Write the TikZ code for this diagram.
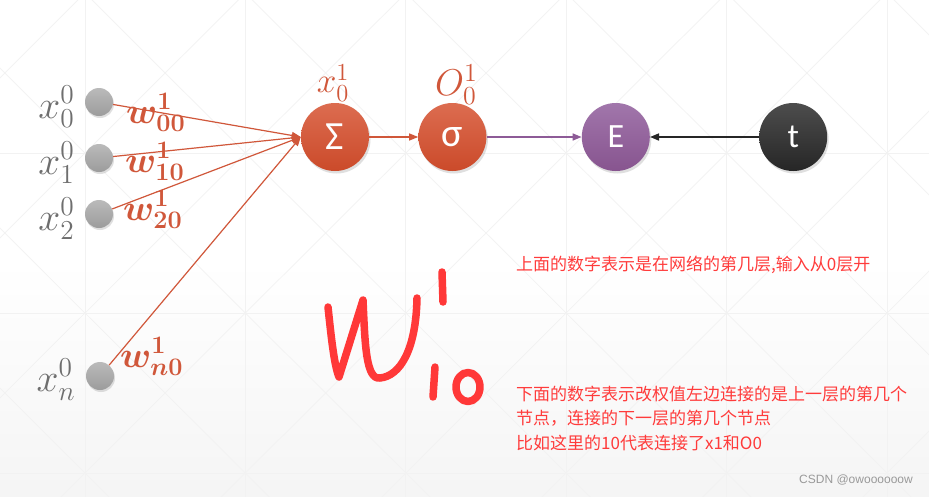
\documentclass[tikz,border=0pt]{standalone}
\usepackage{amsmath, bm}
\usepackage{graphicx}
\usepackage{fontspec}
\newfontfamily\cjk{Noto Sans CJK SC}
\newfontfamily\nodefont{Carlito}
\newfontfamily\markfont{Liberation Sans}
\usetikzlibrary{arrows.meta, positioning, shadows}

\definecolor{NetRed}{HTML}{D0573A}
\definecolor{NetRedTop}{HTML}{DC6C50}
\definecolor{NetRedBot}{HTML}{CB4A2A}
\definecolor{LabGray}{HTML}{6E6E6E}
\definecolor{ErrPurple}{HTML}{8D5B97}
\definecolor{ErrTop}{HTML}{A176AB}
\definecolor{ErrBot}{HTML}{87548F}
\definecolor{TgtTop}{HTML}{4D4D4D}
\definecolor{TgtBot}{HTML}{262626}
\definecolor{DotTop}{HTML}{BABABA}
\definecolor{DotBot}{HTML}{9C9C9C}
\definecolor{NoteRed}{HTML}{FF3B3B}
\definecolor{InkRed}{HTML}{FF3838}

% math labels at 20.74pt, blown up
\newcommand{\netlab}[2]{\scalebox{#1}{$#2$}}

\tikzset{
  inp/.style={circle, minimum size=28pt, inner sep=0pt, top color=DotTop, bottom color=DotBot,
    drop shadow={shadow xshift=1pt, shadow yshift=-2pt, opacity=0.25}},
  unit/.style={circle, minimum size=68pt, inner sep=0pt, text=white,
    drop shadow={shadow xshift=1.5pt, shadow yshift=-2.5pt, opacity=0.25}},
  sumunit/.style={unit, top color=NetRedTop, bottom color=NetRedBot},
  errunit/.style={unit, top color=ErrTop, bottom color=ErrBot},
  tgtunit/.style={unit, top color=TgtTop, bottom color=TgtBot},
  xlab/.style={text=LabGray, inner sep=0pt, font=\fontsize{20.74}{24}\selectfont},
  wlab/.style={text=NetRed, inner sep=0pt, font=\fontsize{20.74}{24}\selectfont},
  olab/.style={text=NetRed, inner sep=0pt, font=\fontsize{20.74}{24}\selectfont},
  wedge/.style={draw=NetRed, line width=1.2pt, -{Triangle[length=9pt, width=7pt]}},
  note/.style={text=NoteRed, inner sep=0pt, align=left, font=\cjk\fontsize{17}{24.5}\selectfont},
  ink/.style={draw=InkRed, line width=7.5pt, line cap=round, line join=round},
  grid/.style={draw=black!5, line width=0.7pt}
}

\begin{document}
\begin{tikzpicture}[x=1pt, y=-1pt]
  \useasboundingbox (0,0) rectangle (929,496);
  % slide background
  \fill[white] (0,0) rectangle (929,496);
  \shade[top color=white, bottom color=black!4] (0,260) rectangle (929,496);
  \begin{scope}
    \clip (0,0) rectangle (929,496);
    \foreach \i in {-1,...,6}
      \draw[grid] ({85+160.4*\i},-10) -- ({85+160.4*\i},510);
    \foreach \j in {-1,...,3}
      \draw[grid] (-10,{153+160*\j}) -- (940,{153+160*\j});
    \foreach \i in {-1,...,5}
      \foreach \j in {-1,...,2} {
        \draw[grid] ({85+160.4*\i},{153+160*\j}) -- ({85+160.4*(\i+1)},{153+160*(\j+1)});
        \draw[grid] ({85+160.4*(\i+1)},{153+160*\j}) -- ({85+160.4*\i},{153+160*(\j+1)});
      }
  \end{scope}

  % inputs
  \node[inp] (x0) at (99,102) {};
  \node[inp] (x1) at (99,158) {};
  \node[inp] (x2) at (99,214) {};
  \node[inp] (xn) at (100,376) {};
  \node[xlab, left=10pt of x0, yshift=-5pt] (lx0) {\netlab{1.9}{x^0_0}};
  \node[xlab, left=10pt of x1, yshift=-5pt] (lx1) {\netlab{1.9}{x^0_1}};
  \node[xlab, left=10pt of x2, yshift=-5pt] (lx2) {\netlab{1.9}{x^0_2}};
  \node[xlab, left=10pt of xn, yshift=-4pt] (lxn) {\netlab{1.9}{x^0_n}};

  % units
  \node[sumunit, font=\nodefont\fontsize{40}{40}\selectfont] (sum) at (335,137) {Σ};
  \node[sumunit, right=49pt of sum, font=\nodefont\fontsize{40}{40}\selectfont] (sig) {σ};
  \node[errunit, right=95pt of sig, font=\nodefont\fontsize{34}{34}\selectfont] (err) {E};
  \node[tgtunit, right=109pt of err, font=\nodefont\fontsize{34}{34}\selectfont] (tgt) {t};
  \node[olab, above=1pt of sum, xshift=-2pt] (lsum) {\netlab{1.7}{x^1_0}};
  \node[olab, above=-2pt of sig, xshift=4pt] (lsig) {\netlab{1.8}{O^1_0}};

  % weights
  \draw[wedge] (x0) -- (sum.west);
  \draw[wedge] (x1) -- (sum.west);
  \draw[wedge] (x2) -- (sum.west);
  \draw[wedge] (xn) -- (sum.west);
  \node[wlab, anchor=base west] (w00) at (126,123) {\netlab{1.75}{\bm{w^1_{00}}}};
  \node[wlab, anchor=base west] (w10) at (125,172) {\netlab{1.75}{\bm{w^1_{10}}}};
  \node[wlab, anchor=base west] (w20) at (123,220) {\netlab{1.75}{\bm{w^1_{20}}}};
  \node[wlab, anchor=base west] (wn0) at (120,367) {\netlab{1.75}{\bm{w^1_{n0}}}};

  \draw[wedge] (sum) -- (sig);
  \draw[draw=ErrPurple, line width=1.6pt, -{Triangle[length=9pt, width=7pt]}] (sig) -- (err);
  \draw[draw=TgtBot, line width=1.6pt, -{Triangle[length=9pt, width=7pt]}] (tgt) -- (err);

  % handwritten W^1_10
  \draw[ink] (328,307) .. controls (331,335) and (334,365) .. (339,377)
    -- (363,300) .. controls (365,345) and (366,380) .. (380,378)
    .. controls (400,376) and (416,350) .. (417,298);
  \draw[ink] (442,272) -- (443,302);
  \draw[ink] (435,367) -- (433,397);
  \draw[ink] (468,387) ellipse [x radius=12pt, y radius=14.5pt];

  % notes
  \node[note, anchor=west] (note1) at (516,265) {上面的数字表示是在网络的第几层,输入从0层开};
  \node[note, anchor=west] (note2) at (516,418) {下面的数字表示改权值左边连接的是上一层的第几个\\节点，连接的下一层的第几个节点\\比如这里的10代表连接了x1和O0};
  \node[text=black!40, inner sep=0pt, anchor=east, font=\markfont\fontsize{12}{12}\selectfont] (mark) at (913,480) {CSDN @owoooooow};
\end{tikzpicture}
\end{document}
